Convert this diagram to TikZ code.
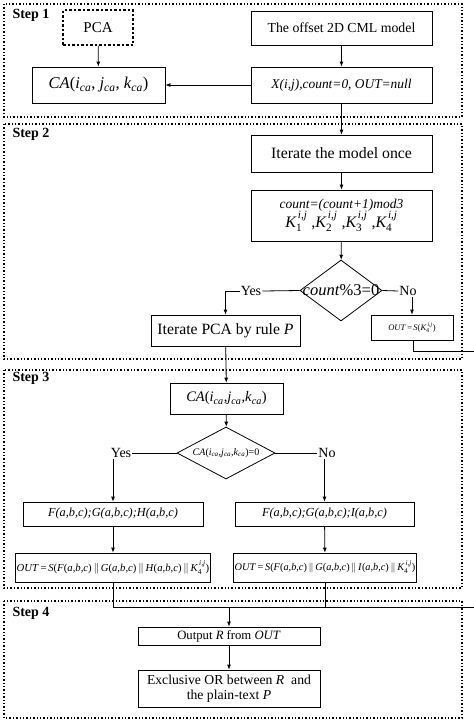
\documentclass[tikz,border=0pt]{standalone}
\usepackage{amsmath}
\usepackage{fontspec}
\setmainfont{Liberation Serif}
\usetikzlibrary{arrows.meta,shapes.geometric}
\newcommand\ti[1]{\textit{#1}}
\newcommand\Kf[1]{$\textit{K}^{\,\textit{i,j}}_{\text{#1}}$}
\newcommand\ca{\ti{CA}(\ti{i}$_{\textit{ca}}$, \ti{j}$_{\textit{ca}}$, \ti{k}$_{\textit{ca}}$)}
\newcommand\cab{\ti{CA}(\ti{i}$_{\textit{ca}}$,\ti{j}$_{\textit{ca}}$,\ti{k}$_{\textit{ca}}$)}
\tikzset{
  box/.style={draw=black,line width=0.8pt,rectangle,inner sep=1pt,align=center},
  dia/.style={draw=black,line width=0.8pt,diamond,inner sep=0pt},
  frame/.style={draw=black,line width=1.2pt,dash pattern=on 1.4pt off 2pt},
  arr/.style={draw=black,line width=0.8pt,-{Latex[length=5pt,width=4pt]}},
  ln/.style={draw=black,line width=0.8pt},
  steplbl/.style={font=\fontsize{14}{16}\selectfont\bfseries,anchor=west},
  lbl/.style={font=\fontsize{14}{16}\selectfont,fill=white,inner sep=1pt}
}
\begin{document}
\begin{tikzpicture}[x=1pt,y=-1pt]
\useasboundingbox (0,0) rectangle (474,726);
% frames
\draw[frame] (4,4) rectangle (462,117);
\draw[frame] (4,124) rectangle (462,359);
\draw[frame] (4,370) rectangle (462,588);
\draw[frame] (4,601) rectangle (462,718);
\node[steplbl] (s1) at (9,15) {Step 1};
\node[steplbl] (s2) at (9,134) {Step 2};
\node[steplbl] (s3) at (9,378) {Step 3};
\node[steplbl] (s4) at (9,613) {Step 4};
% step 1
\node[box,dash pattern=on 2.5pt off 2pt,line width=1.2pt,minimum width=70,minimum height=35,font=\fontsize{15}{17}\selectfont] (pca) at (98,27.5) {PCA};
\node[box,minimum width=181,minimum height=34,font=\fontsize{13.8}{15}\selectfont] (cml) at (341.5,28) {The offset 2D CML model};
\node[box,minimum width=133,minimum height=36,font=\fontsize{16.5}{17}\selectfont] (ca1) at (98.5,85) {\ca};
\node[box,minimum width=181,minimum height=36,font=\fontsize{13.4}{15}\selectfont\itshape] (xij) at (341.5,85) {X(i,j),count=0, OUT=null};
% step 2
\node[box,minimum width=181,minimum height=37,font=\fontsize{15.8}{17}\selectfont] (itm) at (341.5,153.5) {Iterate the model once};
\node[box,minimum width=181,minimum height=51,font=\fontsize{13.5}{17}\selectfont] (cnt) at (341.5,215.5) {\ti{count=(count+1)mod3}\\[-1pt] {\fontsize{16}{18}\selectfont \Kf{1} ,\Kf{2} ,\Kf{3} ,\Kf{4}}};
\node[dia,minimum width=82,minimum height=61] (d1) at (341,290.5) {};
\node[font=\fontsize{16.5}{18}\selectfont,inner sep=0pt] (d1t) at (d1) {\ti{count}\%3=0};
\node[box,minimum width=149,minimum height=31,font=\fontsize{15.7}{17}\selectfont] (pcar) at (225.5,330.5) {Iterate PCA by rule \ti{P}};
\node[box,minimum width=82,minimum height=25,font=\fontsize{8.5}{11}\selectfont] (out1) at (412,327.5) {\ti{OUT}\,=\,\ti{S}(\Kf{4})};
\node[lbl] (yes1) at (251,291) {Yes};
\node[lbl] (no1) at (408,291) {No};
% step 3
\node[box,minimum width=113,minimum height=31,font=\fontsize{14.5}{16}\selectfont] (ca3) at (226.5,398.5) {\cab};
\node[dia,minimum width=98,minimum height=52] (d2) at (226,453) {};
\node[font=\fontsize{10}{12}\selectfont,inner sep=0pt] (d2t) at (d2) {\cab=0};
\node[lbl] (yes2) at (121,453) {Yes};
\node[lbl] (no2) at (327,453) {No};
\node[box,minimum width=180,minimum height=24,font=\fontsize{12.3}{15}\selectfont\itshape] (fh) at (113,514) {F(a,b,c);G(a,b,c);H(a,b,c)};
\node[box,minimum width=179,minimum height=24,font=\fontsize{12.3}{15}\selectfont\itshape] (fi) at (324.5,514) {F(a,b,c);G(a,b,c);I(a,b,c)};
\node[box,minimum width=180,minimum height=29,font=\fontsize{10.7}{12}\selectfont] (oh) at (113,567.5) {\ti{OUT}\,=\,\ti{S}(\ti{F}(\ti{a,b,c})\,$\|$\,\ti{G}(\ti{a,b,c})\,$\|$\,\ti{H}(\ti{a,b,c})\,$\|$\,\Kf{4})};
\node[box,minimum width=183,minimum height=29,font=\fontsize{10.3}{12}\selectfont] (oi) at (325,567.5) {\ti{OUT}\,=\,\ti{S}(\ti{F}(\ti{a,b,c})\,$\|$\,\ti{G}(\ti{a,b,c})\,$\|$\,\ti{I}(\ti{a,b,c})\,$\|$\,\Kf{4})};
% step 4
\node[box,minimum width=182,minimum height=18,font=\fontsize{12.7}{14}\selectfont] (outr) at (229,636) {Output \ti{R} from \ti{OUT}};
\node[box,minimum width=182,minimum height=37,font=\fontsize{13.7}{15}\selectfont] (xor) at (229,688.5) {Exclusive OR between \ti{R} \ and\\the plain-text \ti{P}};
% connectors
\draw[arr] (pca) -- (ca1);
\draw[arr] (cml) -- (xij);
\draw[arr] (xij) -- (ca1);
\draw[arr] (xij) -- (itm);
\draw[arr] (itm) -- (cnt);
\draw[arr] (cnt) -- (d1);
\draw[ln] (d1.west) -- (yes1.east);
\draw[arr] (yes1.west) -| (pcar.north);
\draw[ln] (d1.east) -- (no1.west);
\draw[arr] (out1.north |- no1.south) -- (out1.north);
\coordinate (c1) at (413,351);
\coordinate (c1r) at (478,351);
\draw[ln] (out1.south -| c1) -- (c1) -- (c1r);
\draw[arr] (pcar) -- (ca3);
\draw[arr] (ca3) -- (d2);
\draw[ln] (d2.west) -- (yes2.east);
\draw[ln] (d2.east) -- (no2.west);
\draw[arr] (fh.north |- yes2.south) -- (fh.north);
\draw[arr] (fi.north |- no2.south) -- (fi.north);
\draw[arr] (fh) -- (oh);
\draw[arr] (fi) -- (oi);
\coordinate (j1) at (113,607);
\coordinate (j2) at (325,607);
\coordinate (jm) at (229,607);
\coordinate (jr) at (478,607);
\draw[ln] (oh.south) -- (j1) -- (jr);
\draw[ln] (oi.south) -- (j2);
\draw[arr] (jm) -- (outr);
\draw[arr] (outr) -- (xor);
\end{tikzpicture}
\end{document}
